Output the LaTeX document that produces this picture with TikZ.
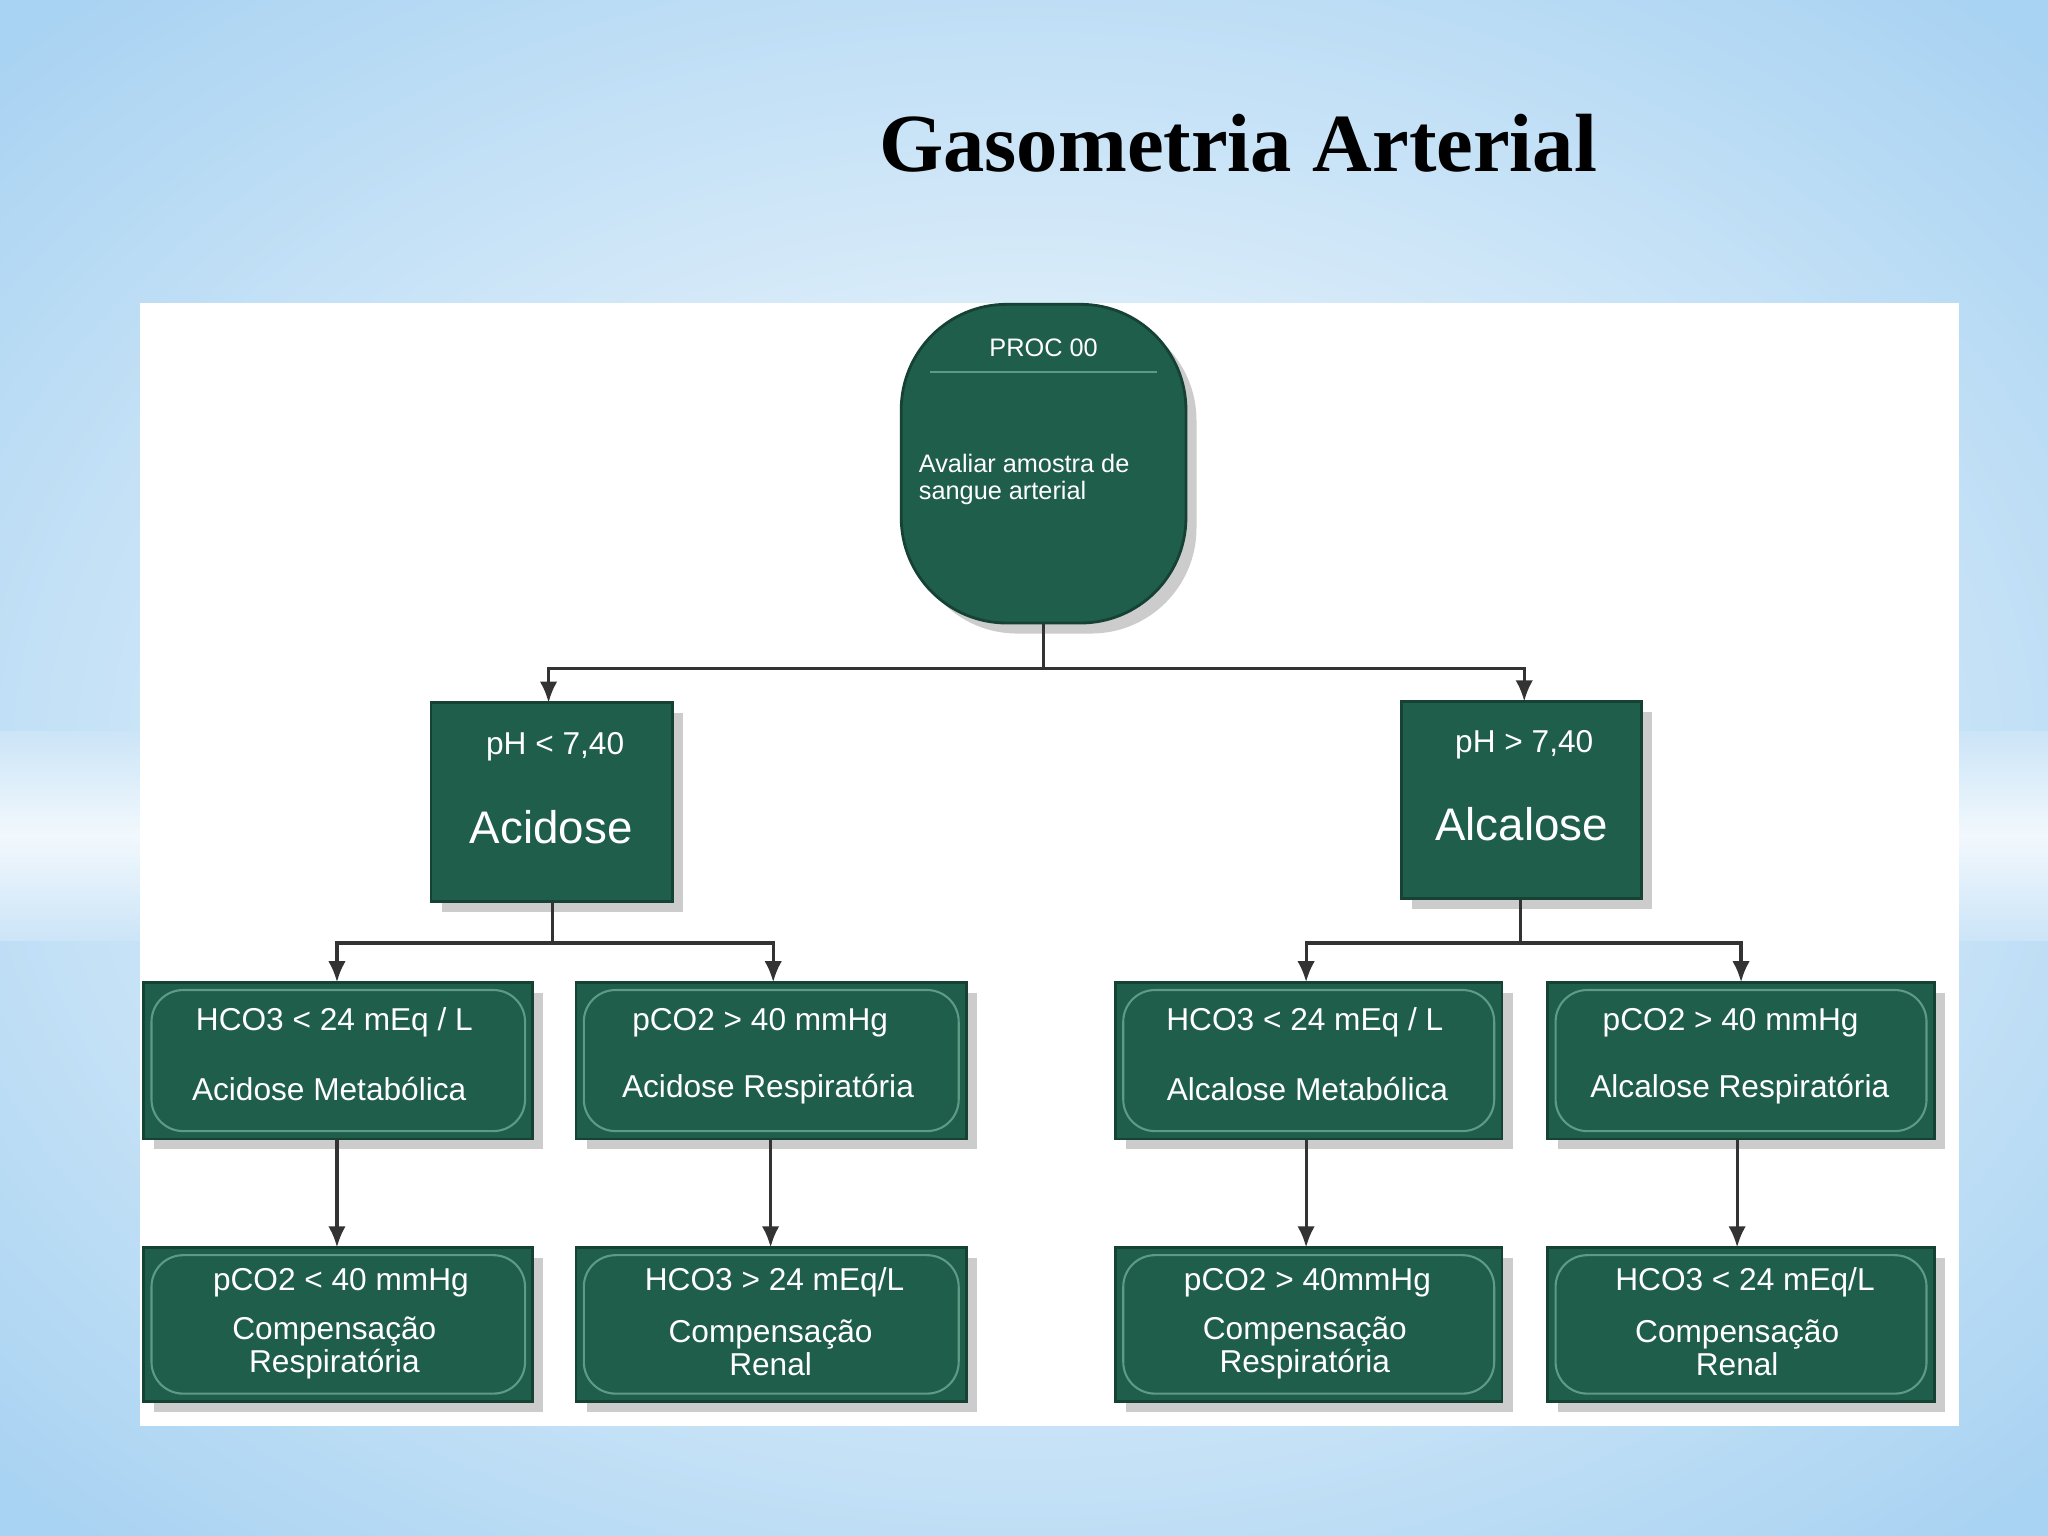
\documentclass[tikz,border=0pt]{standalone}
\usepackage{fontspec}
\setmainfont{Liberation Sans}
\newfontfamily\titlefont{Liberation Serif}
\usetikzlibrary{arrows.meta,shadows}
\definecolor{bx}{HTML}{1F5E4B}
\definecolor{bxl}{HTML}{5E9A86}
\definecolor{sky}{HTML}{A9D3F2}
\tikzset{
 gbox/.style={fill=bx,draw=bx!70!black,line width=0.8pt,drop shadow={opacity=0.4,shadow xshift=3pt,shadow yshift=-3pt},text=white},
 inner/.style={draw=bxl,line width=0.6pt,rounded corners=9pt},
 conn/.style={draw=black!80,line width=0.9pt},
 arr/.style={conn,-{Latex[length=6pt,width=5pt]}},
 t/.style={text=white,font=\fontsize{9}{10}\selectfont,inner sep=0pt}
}
\begin{document}
\begin{tikzpicture}[x=0.01306cm,y=-0.01306cm]
\useasboundingbox (0,0) rectangle (1568,1176);
\shade[inner color=white,outer color=sky] (-300,-200) rectangle (1868,1376);
\shade[top color=sky!60!white,bottom color=white!85!sky] (0,560) rectangle (1568,640);
\shade[top color=white!85!sky,bottom color=sky!60!white] (0,640) rectangle (1568,720);
\shade[inner color=white,outer color=sky!60!white] (200,300) rectangle (1368,900);
\node[font=\titlefont\bfseries\fontsize{23.5}{28}\selectfont] (title) at (948,110) {Gasometria Arterial};
\fill[white] (107,232) rectangle (1500,1092);
% top
\draw[gbox,rounded corners=30pt] (690,233) rectangle (908,477);
\coordinate (topb) at (799,477);
\draw[bxl,line width=0.6pt] (712,285) -- (886,285);
\node[t,font=\fontsize{7.2}{8}\selectfont] (proc) at (799,266) {PROC 00};
\node[t,font=\fontsize{7.2}{7.6}\selectfont,align=left,anchor=west] (av) at (703,367) {Avaliar amostra de\\sangue arterial};
% level 2
\draw[gbox] (330,538) rectangle (515,690);
\node[t] (aph) at (425,572) {pH < 7,40};
\node[t,font=\fontsize{13}{14}\selectfont] (acid) at (422,633) {Acidose};
\draw[gbox] (1073,537) rectangle (1257,688);
\node[t] (kph) at (1167,570) {pH > 7,40};
\node[t,font=\fontsize{13}{14}\selectfont] (alc) at (1165,631) {Alcalose};
\coordinate (acT) at (420,538); \coordinate (acB) at (423,690);
\coordinate (alT) at (1167,537); \coordinate (alB) at (1164,688);
\draw[conn] (topb) -- (799,512) coordinate (j1);
\draw[arr] (j1) -| (acT);
\draw[arr] (j1) -| (alT);
% level 3 and 4 boxes
\foreach \n/\xa/\xb in {A/110/408,B/441/740,C/854/1150,D/1185/1481}{
 \draw[gbox] (\xa,752) rectangle (\xb,872);
 \draw[inner] (\xa+6,758) rectangle (\xb-6,866);
 \draw[gbox] (\xa,955) rectangle (\xb,1073);
 \draw[inner] (\xa+6,961) rectangle (\xb-6,1067);
}
\node[t] (a1) at (256,783) {HCO3 < 24 mEq / L};
\node[t] (a2) at (252,834) {Acidose Metabólica};
\node[t] (b1) at (582,783) {pCO2 > 40 mmHg};
\node[t] (b2) at (588,834) {Acidose Respiratória};
\node[t] (c1) at (999,783) {HCO3 < 24 mEq / L};
\node[t] (c2) at (1001,834) {Alcalose Metabólica};
\node[t] (d1) at (1325,783) {pCO2 > 40 mmHg};
\node[t] (d2) at (1332,834) {Alcalose Respiratória};
\node[t] (a3) at (261,982) {pCO2 < 40 mmHg};
\node[t,align=center,font=\fontsize{9}{8}\selectfont] (a4) at (256,1032) {Compensação\\Respiratória};
\node[t] (b3) at (593,982) {HCO3 > 24 mEq/L};
\node[t,align=center,font=\fontsize{9}{8}\selectfont] (b4) at (590,1032) {Compensação\\Renal};
\node[t] (c3) at (1001,982) {pCO2 > 40mmHg};
\node[t,align=center,font=\fontsize{9}{8}\selectfont] (c4) at (999,1032) {Compensação\\Respiratória};
\node[t] (d3) at (1336,982) {HCO3 < 24 mEq/L};
\node[t,align=center,font=\fontsize{9}{8}\selectfont] (d4) at (1330,1032) {Compensação\\Renal};
% connectors
\draw[conn] (acB) -- (423,722) coordinate (j2);
\draw[arr] (j2) -| (258,752);
\draw[arr] (j2) -| (592,752);
\draw[conn] (alB) -- (1164,722) coordinate (j3);
\draw[arr] (j3) -| (1000,752);
\draw[arr] (j3) -| (1333,752);
\foreach \x in {258,590,1000,1330}{\draw[arr] (\x,872) -- (\x,955);}
\end{tikzpicture}
\end{document}
